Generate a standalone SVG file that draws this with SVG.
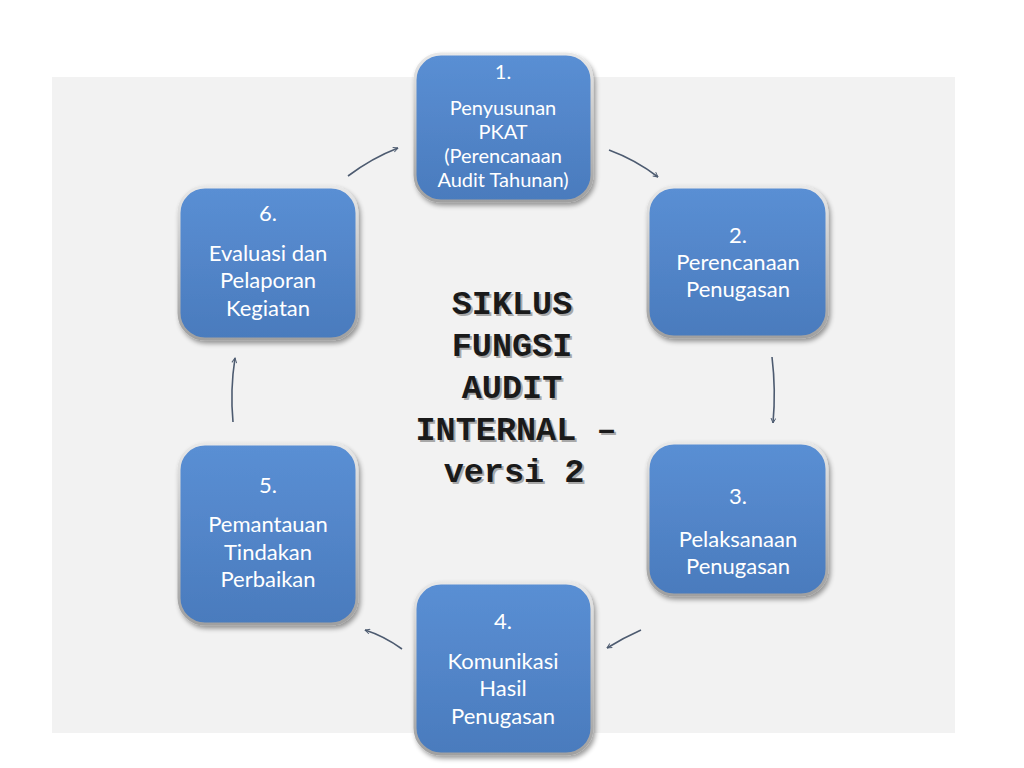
<svg xmlns="http://www.w3.org/2000/svg" width="1024" height="768" viewBox="0 0 1024 768">
<defs>
<linearGradient id="fill" x1="0" y1="0" x2="0" y2="1">
<stop offset="0" stop-color="#5a8fd4"/>
<stop offset="1" stop-color="#4a7bbd"/>
</linearGradient>
<linearGradient id="rim" x1="0" y1="0" x2="0" y2="1">
<stop offset="0" stop-color="#e8e8e8"/>
<stop offset="1" stop-color="#a0a0a0"/>
</linearGradient>
<filter id="sh" x="-10%" y="-10%" width="125%" height="125%">
<feGaussianBlur in="SourceAlpha" stdDeviation="2.5"/>
<feOffset dx="2" dy="3"/>
<feComponentTransfer><feFuncA type="linear" slope="0.4"/></feComponentTransfer>
<feMerge><feMergeNode/><feMergeNode in="SourceGraphic"/></feMerge>
</filter>
<marker id="ah" viewBox="0 0 10 10" refX="9" refY="5" markerWidth="6" markerHeight="6" orient="auto" markerUnits="userSpaceOnUse">
<path d="M1,1 L9,5 L1,9" fill="none" stroke="#4d5b70" stroke-width="1.6"/>
</marker>
</defs>
<style>
.box{fill:url(#fill);stroke:url(#rim);stroke-width:3;filter:url(#sh)}
.t{font-family:Lato,"Open Sans",sans-serif;font-size:22px;fill:#ffffff;text-anchor:middle}
.t1{font-size:20px}
.c{font-family:"Liberation Mono","Courier New",monospace;font-weight:bold;font-size:33.5px;fill:#1a1a1a;text-anchor:middle}
.cs{font-family:"Liberation Mono","Courier New",monospace;font-weight:bold;font-size:33.5px;fill:#a8a8a8;text-anchor:middle}
.a{fill:none;stroke:#4d5b70;stroke-width:1.6;marker-end:url(#ah)}
</style>
<rect x="52" y="77" width="903" height="656" fill="#f2f2f2"/>

<g id="connectors">
<path class="a" d="M609,150 Q636,160 658,177"/>
<path class="a" d="M772,357 Q776,390 773,423"/>
<path class="a" d="M641,630 Q623,638 607,648"/>
<path class="a" d="M402,649 Q384,636 365,630"/>
<path class="a" d="M233,422 Q230,390 235,358"/>
<path class="a" d="M348,176 Q372,158 398,148"/>
</g>

<g id="node1">
<rect class="box" x="415" y="54" width="177" height="147" rx="26"/>
<text class="t t1" x="503" y="79">1.</text>
<text class="t t1" x="503" y="115">Penyusunan</text>
<text class="t t1" x="503" y="139">PKAT</text>
<text class="t t1" x="503" y="163">(Perencanaan</text>
<text class="t t1" x="503" y="187">Audit Tahunan)</text>
</g>

<g id="node2">
<rect class="box" x="648" y="187" width="179" height="150" rx="26"/>
<text class="t" x="738" y="243">2.</text>
<text class="t" x="738" y="270">Perencanaan</text>
<text class="t" x="738" y="297">Penugasan</text>
</g>

<g id="node3">
<rect class="box" x="648" y="443" width="179" height="152" rx="26"/>
<text class="t" x="738" y="504">3.</text>
<text class="t" x="738" y="547">Pelaksanaan</text>
<text class="t" x="738" y="574">Penugasan</text>
</g>

<g id="node4">
<rect class="box" x="415" y="583" width="177" height="171" rx="26"/>
<text class="t" x="503" y="629">4.</text>
<text class="t" x="503" y="669">Komunikasi</text>
<text class="t" x="503" y="696">Hasil</text>
<text class="t" x="503" y="724">Penugasan</text>
</g>

<g id="node5">
<rect class="box" x="179" y="444" width="178" height="180" rx="26"/>
<text class="t" x="268" y="493">5.</text>
<text class="t" x="268" y="532">Pemantauan</text>
<text class="t" x="268" y="560">Tindakan</text>
<text class="t" x="268" y="587">Perbaikan</text>
</g>

<g id="node6">
<rect class="box" x="179" y="187" width="178" height="152" rx="26"/>
<text class="t" x="268" y="221">6.</text>
<text class="t" x="268" y="261">Evaluasi dan</text>
<text class="t" x="268" y="288">Pelaporan</text>
<text class="t" x="268" y="316">Kegiatan</text>
</g>

<g id="title">
<text class="cs" x="514" y="316">SIKLUS</text>
<text class="cs" x="514" y="358">FUNGSI</text>
<text class="cs" x="514" y="400">AUDIT</text>
<text class="cs" x="518" y="442">INTERNAL –</text>
<text class="cs" x="516" y="484">versi 2</text>
<text class="c" x="512" y="314">SIKLUS</text>
<text class="c" x="512" y="356">FUNGSI</text>
<text class="c" x="512" y="398">AUDIT</text>
<text class="c" x="516" y="440">INTERNAL –</text>
<text class="c" x="514" y="482">versi 2</text>
</g>
</svg>
